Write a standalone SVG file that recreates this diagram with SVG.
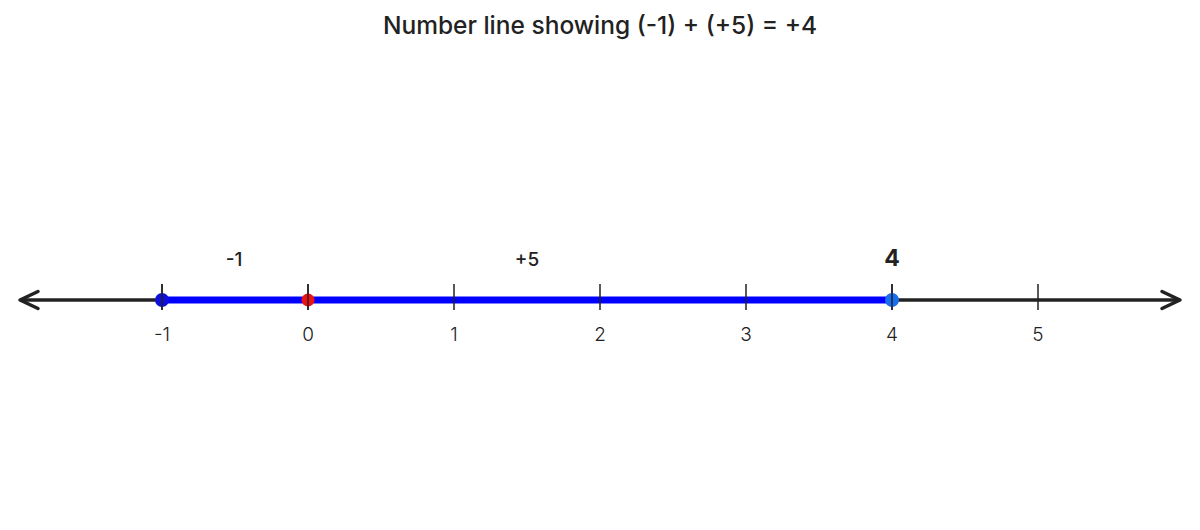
<svg xmlns="http://www.w3.org/2000/svg" width="1200" height="530" viewBox="0 0 1200 530">
<style>
.t{font-family:Inter,"Noto Sans","Liberation Sans",sans-serif;fill:#222}
.tick{stroke:#222;stroke-width:1.5}
.lbl{font-size:19px;font-weight:300;text-anchor:middle}
.step{font-size:19px;font-weight:500;text-anchor:middle}
</style>
<rect width="1200" height="530" fill="#fff"/>
<text class="t" x="600" y="34" font-size="24.5" font-weight="500" text-anchor="middle">Number line showing (-1) + (+5) = +4</text>
<g id="connectors">
<line x1="20" y1="300" x2="1180" y2="300" stroke="#222" stroke-width="3.5"/>
<polyline points="38,291.5 20,300 38,308.5" fill="none" stroke="#222" stroke-width="3.5" stroke-linecap="round" stroke-linejoin="round"/>
<polyline points="1162,291.5 1180,300 1162,308.5" fill="none" stroke="#222" stroke-width="3.5" stroke-linecap="round" stroke-linejoin="round"/>
<line x1="162" y1="300" x2="892" y2="300" stroke="#0000ff" stroke-width="7"/>
</g>
<g id="ticks">
<line class="tick" x1="162" y1="284" x2="162" y2="310"/>
<line class="tick" x1="308" y1="284" x2="308" y2="310"/>
<line class="tick" x1="454" y1="284" x2="454" y2="310"/>
<line class="tick" x1="600" y1="284" x2="600" y2="310"/>
<line class="tick" x1="746" y1="284" x2="746" y2="310"/>
<line class="tick" x1="892" y1="284" x2="892" y2="310"/>
<line class="tick" x1="1038" y1="284" x2="1038" y2="310"/>
</g>
<g id="node-m1"><circle cx="162" cy="300" r="7" fill="#1010dd"/><line class="tick" x1="162" y1="284" x2="162" y2="310"/><text class="t lbl" x="162" y="341">-1</text></g>
<g id="node-0"><circle cx="308" cy="300" r="6.5" fill="#ee1111"/><line class="tick" x1="308" y1="284" x2="308" y2="310"/><text class="t lbl" x="308" y="341">0</text></g>
<g id="node-1"><text class="t lbl" x="454" y="341">1</text></g>
<g id="node-2"><text class="t lbl" x="600" y="341">2</text></g>
<g id="node-3"><text class="t lbl" x="746" y="341">3</text></g>
<g id="node-4"><circle cx="892" cy="300" r="7" fill="#1a6ef0"/><line class="tick" x1="892" y1="284" x2="892" y2="310"/><text class="t lbl" x="892" y="341">4</text></g>
<g id="node-5"><text class="t lbl" x="1038" y="341">5</text></g>
<g id="labels">
<text class="t step" x="234" y="266">-1</text>
<text class="t step" x="527" y="266">+5</text>
<text class="t" x="892" y="266" font-size="23" font-weight="700" text-anchor="middle">4</text>
</g>
</svg>
